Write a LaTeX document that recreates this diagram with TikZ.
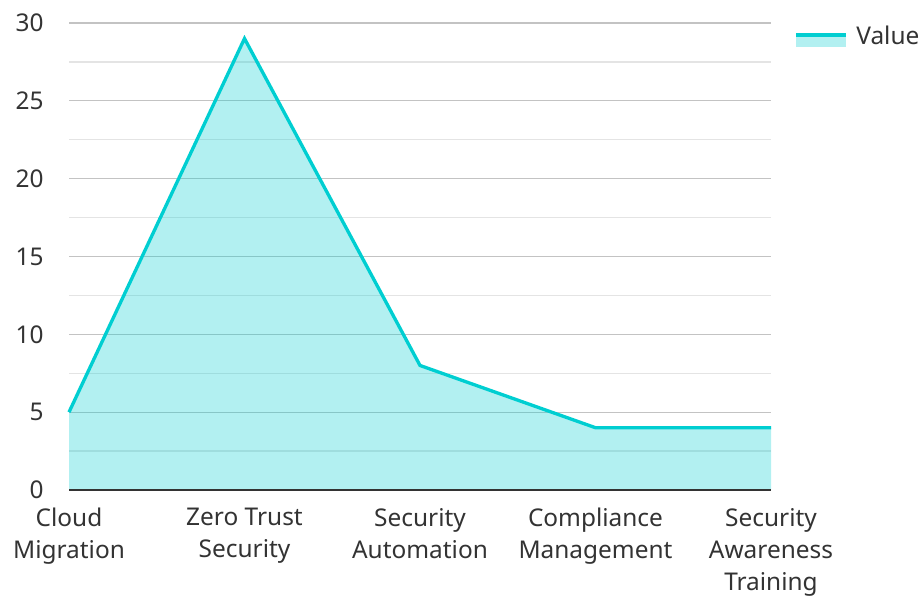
\documentclass[tikz,border=0pt]{standalone}
\usepackage{fontspec}
\setmainfont{Noto Sans}
\usetikzlibrary{positioning}
\definecolor{lineteal}{RGB}{0,206,209}
\definecolor{textgray}{RGB}{51,51,51}
\definecolor{majorgrid}{RGB}{195,195,195}
\definecolor{minorgrid}{RGB}{228,228,228}
\tikzset{
  majorline/.style={draw=majorgrid, line width=0.7pt},
  minorline/.style={draw=minorgrid, line width=0.7pt},
  ticklabel/.style={text=textgray, anchor=east, inner sep=0pt},
  catlabel/.style={text=textgray, anchor=north, align=center, inner sep=0pt},
}

\begin{document}
\begin{tikzpicture}[x=0.02cm, y=-0.02cm, font=\fontsize{13.9}{18.2}\selectfont]
        \useasboundingbox (0,0) rectangle (920,597);
        % grid (value v sits at 490 - 15.567 v)
        \foreach \v in {2.5,7.5,...,27.5}
            \draw[minorline] (69,{490-15.567*\v}) -- (771,{490-15.567*\v});
        \foreach \v in {5,10,...,30}
            \draw[majorline] (69,{490-15.567*\v}) -- (771,{490-15.567*\v});
        \foreach \v in {0,5,...,30}
            \node[ticklabel] (tick\v) at (44,{490-15.567*\v}) {\v};
        % data
        \coordinate (p1) at (69,{490-15.567*5});
        \coordinate (p2) at (244.5,{490-15.567*29});
        \coordinate (p3) at (420,{490-15.567*8});
        \coordinate (p4) at (595.5,{490-15.567*4});
        \coordinate (p5) at (771,{490-15.567*4});
        \coordinate (o1) at (69,490);
        \coordinate (o5) at (771,490);
        \fill[lineteal, fill opacity=0.3] (o1) -- (p1) -- (p2) -- (p3) -- (p4) -- (p5) -- (o5) -- cycle;
        \draw[lineteal, line width=1.9pt, line join=miter] (p1) -- (p2) -- (p3) -- (p4) -- (p5);
        \draw[textgray, line width=1.2pt] (o1) -- (o5);
        % categories
        \node[catlabel] (cat1) at (69,508) {Cloud\\Migration};
        \node[catlabel] (cat2) at (244.5,508) {Zero Trust\\Security};
        \node[catlabel] (cat3) at (420,508) {Security\\Automation};
        \node[catlabel] (cat4) at (595.5,508) {Compliance\\Management};
        \node[catlabel] (cat5) at (771,508) {Security\\Awareness\\Training};
        % legend
        \fill[lineteal, fill opacity=0.3] (796,36) rectangle (846,47.5);
        \draw[lineteal, line width=1.9pt] (796,35) coordinate (leg1) -- (846,35) coordinate (leg2);
        \node[text=textgray, anchor=west, inner sep=0pt, right=10*0.02cm of leg2] (legtxt) {Value};
\end{tikzpicture}
\end{document}
